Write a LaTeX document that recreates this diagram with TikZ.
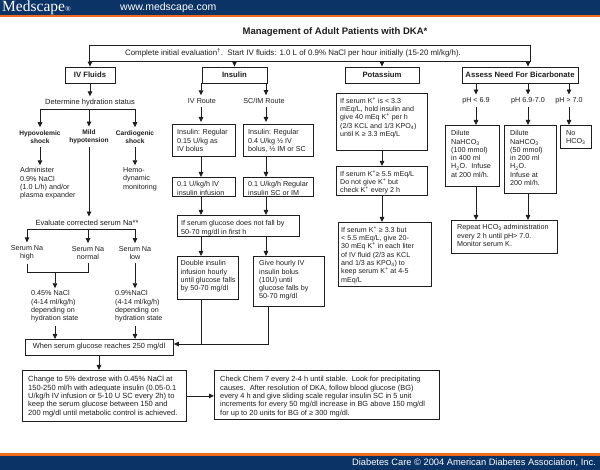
\documentclass[tikz,border=0pt]{standalone}
\usepackage{fontspec}
\setmainfont{Liberation Sans}
\newfontfamily\medserif{Liberation Serif}
\usetikzlibrary{arrows.meta}
\definecolor{mblue}{HTML}{0B3366}
\definecolor{morange}{HTML}{F26B1D}
\definecolor{ink}{HTML}{1E1E1E}
\newcommand\Kp{K\textsuperscript{+}}
\newcommand\fsz[1]{\fontsize{#1}{8.3}\selectfont}
\begin{document}
\begin{tikzpicture}[x=1pt,y=-1pt,
  every node/.style={font=\fsz{7.2}, text=ink, inner sep=0pt},
  box/.style={draw=ink, line width=0.8pt, anchor=north west},
  txt/.style={align=left, anchor=north west},
  lbl/.style={align=center, inner xsep=1pt, inner ysep=3pt},
  shk/.style={lbl, font=\fsz{6.6}\bfseries},
  head/.style={draw=ink, line width=0.8pt, font=\fontsize{7.7}{9}\selectfont\bfseries, minimum height=16pt},
  arr/.style={draw=ink, line width=0.8pt, -{Triangle[length=5pt,width=4.5pt]}},
  arrt/.style={arr, shorten >=2pt},
  ln/.style={draw=ink, line width=0.8pt}]
\useasboundingbox (0,0) rectangle (600,470);
\fill[white] (0,0) rectangle (600,470);
% header / footer
\fill[mblue] (0,0) rectangle (600,15);
\fill[morange] (0,15) rectangle (600,17.5);
\fill[morange] (0,453) rectangle (600,455.5);
\fill[mblue] (0,455.5) rectangle (600,470);
\node[anchor=west, text=white, font=\medserif\fontsize{15.5}{15.5}\selectfont] (logo) at (2,8) {Medscape{\fontsize{7.5}{7.5}\selectfont ®}};
\node[anchor=west, text=white, font=\fontsize{10.5}{11}\selectfont] (url) at (120,8) {www.medscape.com};
\node[anchor=east, text=white, font=\fontsize{9.3}{10}\selectfont] (cite) at (596,463) {Diabetes Care © 2004 American Diabetes Association, Inc.};
% title
\node[font=\fontsize{9.5}{11}\selectfont\bfseries] (title) at (335,32) {Management of Adult Patients with DKA*};
% initial box
\node[box, minimum width=441pt, minimum height=16pt] (init) at (89,45) {};
\node[font=\fsz{7.9}] (initt) at (293,53) {Complete initial evaluation\textsuperscript{†}.\ \ Start IV fluids: 1.0 L of 0.9\% NaCl per hour initially (15-20 ml/kg/h).};
% heads
\node[head, minimum width=50pt] (ivf) at (90,75) {IV Fluids};
\node[head, minimum width=65pt] (ins) at (234.5,75) {Insulin};
\node[head, minimum width=74pt] (pot) at (382,75) {Potassium};
\node[head, minimum width=116pt] (bic) at (520,75) {Assess Need For Bicarbonate};
\coordinate (ia) at (201,0);
\coordinate (ib) at (266,0);
\coordinate (pk) at (382,0);
\coordinate (b1) at (476,0);
\coordinate (b2) at (528,0);
\coordinate (b3) at (569,0);
\draw[arr] (init.south -| ivf) -- (ivf.north);
\draw[arr] (init.south -| ins) -- (ins.north -| ins);
\draw[arr] (init.south -| pk) -- (pot.north -| pk);
\draw[arr] (init.south -| b2) -- (bic.north -| b2);
% IV fluids column
\node[lbl, font=\fsz{7.5}] (det) at (90,103) {Determine hydration status};
\draw[arr] (ivf.south) -- (det.north);
\coordinate (hb) at (90,109);
\node[shk] (hypo) at (40,137) {Hypovolemic\\shock};
\node[shk] (mild) at (89,137) {Mild\\hypotension};
\node[shk] (card) at (135,137) {Cardiogenic\\shock};
\draw[ln] (hypo.north |- hb) -- (card.north |- hb);
\draw[arr] (hypo.north |- hb) -- (hypo.north);
\draw[arr] (mild.north |- hb) -- (mild.north);
\draw[arr] (card.north |- hb) -- (card.north);
\node[txt] (admin) at (20,167.3) {Administer\\0.9\% NaCl\\(1.0 L/h) and/or\\plasma expander};
\node[txt] (hemo) at (123,167.3) {Hemo-\\dynamic\\monitoring};
\draw[arrt] (hypo.south) -- (hypo.south |- admin.north);
\draw[arrt] (card.south) -- (card.south |- hemo.north);
\node[lbl, font=\fsz{7.5}] (evna) at (87,222.5) {Evaluate corrected serum Na**};
\draw[arr] (mild.south) -- (mild.south |- evna.north);
\coordinate (nb) at (87,229);
\node[lbl] (nah) at (27,253) {Serum Na\\high};
\node[lbl] (nan) at (88,253) {Serum Na\\normal};
\node[lbl] (nal) at (135,253) {Serum Na\\low};
\draw[ln] (nah.north |- nb) -- (nal.north |- nb);
\draw[arr] (nah.north |- nb) -- (nah.north);
\draw[arr] (nan.north |- nb) -- (nan.north);
\draw[arr] (nal.north |- nb) -- (nal.north);
\coordinate (jn) at (55,272);
\draw[ln] (nah.south) -- (nah.south |- jn) -- (nan.south |- jn) -- (nan.south);
\node[txt] (p45) at (31,290.3) {0.45\% NaCl\\(4-14 ml/kg/h)\\depending on\\hydration state};
\node[txt] (p09) at (115,290.3) {0.9\%NaCl\\(4-14 ml/kg/h)\\depending on\\hydration state};
\draw[arrt] (jn) -- (jn |- p45.north);
\draw[arrt] (nal.south) -- (nal.south |- p09.north);
\node[box, minimum width=148pt, minimum height=16pt] (gluc) at (25,339) {};
\node[font=\fsz{7.4}] (glt) at (99,347) {When serum glucose reaches 250 mg/dl};
\draw[arr, shorten <=4pt] (p45.south -| jn) -- (gluc.north -| jn);
\draw[arr, shorten <=4pt] (p09.south -| nal) -- (gluc.north -| nal);
% Insulin column
\node[lbl] (ivr) at (202,101) {IV Route};
\node[lbl] (scr) at (264,101) {SC/IM Route};
\draw[arr] (ins.south -| ia) -- (ivr.north -| ia);
\draw[arr] (ins.south -| ib) -- (scr.north -| ib);
\node[box, minimum width=63pt, minimum height=32pt] (ivb) at (172,124) {};
\node[txt] (ivbt) at (177,129.3) {Insulin: Regular\\0.15 U/kg as\\IV bolus};
\node[box, minimum width=70pt, minimum height=32pt] (scb) at (243,124) {};
\node[txt] (scbt) at (248,129.3) {Insulin: Regular\\0.4 U/kg ½ IV\\bolus, ½ IM or SC};
\draw[arrt] (ivr.south -| ia) -- (ivb.north -| ia);
\draw[arrt] (scr.south -| ib) -- (scb.north -| ib);
\node[box, minimum width=63pt, minimum height=19pt] (ivi) at (172,177) {};
\node[txt] (ivit) at (177,181.3) {0.1 U/kg/h IV\\insulin infusion};
\node[box, minimum width=70pt, minimum height=19pt] (sci) at (243,177) {};
\node[txt] (scit) at (248,181.3) {0.1 U/kg/h Regular\\insulin SC or IM};
\draw[arr] (ivb.south -| ia) -- (ivi.north -| ia);
\draw[arr] (scb.south -| ib) -- (sci.north -| ib);
\node[box, minimum width=122pt, minimum height=21pt] (nf) at (177,215) {};
\node[txt] (nft) at (181,220.3) {If serum glucose does not fall by\\50-70 mg/dl in first h};
\draw[arr] (ivi.south -| ia) -- (nf.north -| ia);
\draw[arr] (sci.south -| ib) -- (nf.north -| ib);
\node[box, minimum width=61pt, minimum height=43pt] (dbl) at (177,256) {};
\node[txt] (dblt) at (180.5,260.3) {Double insulin\\infusion hourly\\until glucose falls\\by 50-70 mg/dl};
\node[box, minimum width=71pt, minimum height=50pt] (gvb) at (253,256) {};
\node[txt] (gvbt) at (259,260.3) {Give hourly IV\\insulin bolus\\(10U) until\\glucose falls by\\50-70 mg/dl};
\draw[arr] (nf.south -| ia) -- (dbl.north -| ia);
\draw[arr] (nf.south -| ib) -- (gvb.north -| ib);
\coordinate (ja) at (201,344);
\coordinate (jb) at (268,344);
\draw[ln] (dbl.south -| ja) -- (ja);
\draw[arr] (gvb.south -| jb) -- (jb) -- (gluc.east |- jb);
% Potassium column
\node[box, minimum width=91pt, minimum height=57pt] (k1) at (336,93) {};
\node[txt, font=\fsz{7.1}] (k1t) at (340,97.3) {If serum \Kp{} is < 3.3\\mEq/L, hold insulin and\\give 40 mEq \Kp{} per h\\(2/3 KCL and 1/3 KPO\textsubscript{4})\\until K ≥ 3.3 mEq/L};
\node[box, minimum width=91pt, minimum height=29pt] (k2) at (336,166) {};
\node[txt, font=\fsz{7.1}] (k2t) at (340,170.3) {If serum \Kp≥ 5.5 mEq/L\\Do not give \Kp{} but\\check \Kp{} every 2 h};
\node[box, minimum width=93pt, minimum height=64pt] (k3) at (338,222) {};
\node[txt, font=\fsz{7.1}] (k3t) at (341,226.3) {If serum \Kp{} ≥ 3.3 but\\< 5.5 mEq/L, give 20-\\30 mEq \Kp{} in each liter\\of IV fluid (2/3 as KCL\\and 1/3 as KPO\textsubscript{4}) to\\keep serum \Kp{} at 4-5\\mEq/L};
\draw[arr] (k1.south -| pk) -- (k2.north -| pk);
\draw[arr] (k2.south -| pk) -- (k3.north -| pk);
% Bicarbonate column
\node[lbl] (ph1) at (476,101) {pH < 6.9};
\node[lbl] (ph2) at (528,101) {pH 6.9-7.0};
\node[lbl] (ph3) at (569,101) {pH > 7.0};
\draw[arr] (bic.south -| b1) -- (ph1.north);
\draw[arr] (bic.south -| b2) -- (ph2.north);
\draw[arr] (bic.south -| b3) -- (ph3.north);
\node[box, minimum width=54pt, minimum height=61pt] (ba) at (445,125) {};
\node[txt] (bat) at (451,130.3) {Dilute\\NaHCO\textsubscript{3}\\(100 mmol)\\in 400 ml\\H\textsubscript{2}O.\ \ Infuse\\at 200 ml/h.};
\node[box, minimum width=52pt, minimum height=68pt] (bb) at (504,125) {};
\node[txt] (bbt) at (510,130.3) {Dilute\\NaHCO\textsubscript{3}\\(50 mmol)\\in 200 ml\\H\textsubscript{2}O.\\Infuse at\\200 ml/h.};
\node[box, minimum width=31pt, minimum height=23pt] (bc) at (560,125) {};
\node[txt] (bct) at (566,130.3) {No\\HCO\textsubscript{3}};
\draw[arr] (ph1.south) -- (ph1.south |- ba.north);
\draw[arr] (ph2.south) -- (ph2.south |- bb.north);
\draw[arr] (ph3.south) -- (ph3.south |- bc.north);
\node[box, minimum width=106pt, minimum height=33pt] (rep) at (451,220) {};
\node[txt] (rept) at (457,224.3) {Repeat HCO\textsubscript{3} administration\\every 2 h until pH> 7.0.\\Monitor serum K.};
\draw[arr] (ba.south -| b1) -- (rep.north -| b1);
\draw[arr] (bb.south -| b2) -- (rep.north -| b2);
% bottom
\node[box, minimum width=164pt, minimum height=51pt] (chg) at (22,370) {};
\node[txt, font=\fsz{7.5}] (chgt) at (28,376.3) {Change to 5\% dextrose with 0.45\% NaCl at\\150-250 ml/h with adequate insulin (0.05-0.1\\U/kg/h IV infusion or 5-10 U SC every 2h) to\\keep the serum glucose between 150 and\\200 mg/dl until metabolic control is achieved.};
\node[box, minimum width=225pt, minimum height=49pt] (chk) at (214,370) {};
\node[txt, font=\fsz{7.4}] (chkt) at (220,376.3) {Check Chem 7 every 2-4 h until stable.\ \ Look for precipitating\\causes.\ \ After resolution of DKA, follow blood glucose (BG)\\every 4 h and give sliding scale regular insulin SC in 5 unit\\increments for every 50 mg/dl increase in BG above 150 mg/dl\\for up to 20 units for BG of ≥ 300 mg/dl.};
\draw[arr] (gluc.south -| glt) -- (chg.north -| glt);
\draw[arr] (chg.east) -- (chg.east -| chk.west);
\end{tikzpicture}
\end{document}
